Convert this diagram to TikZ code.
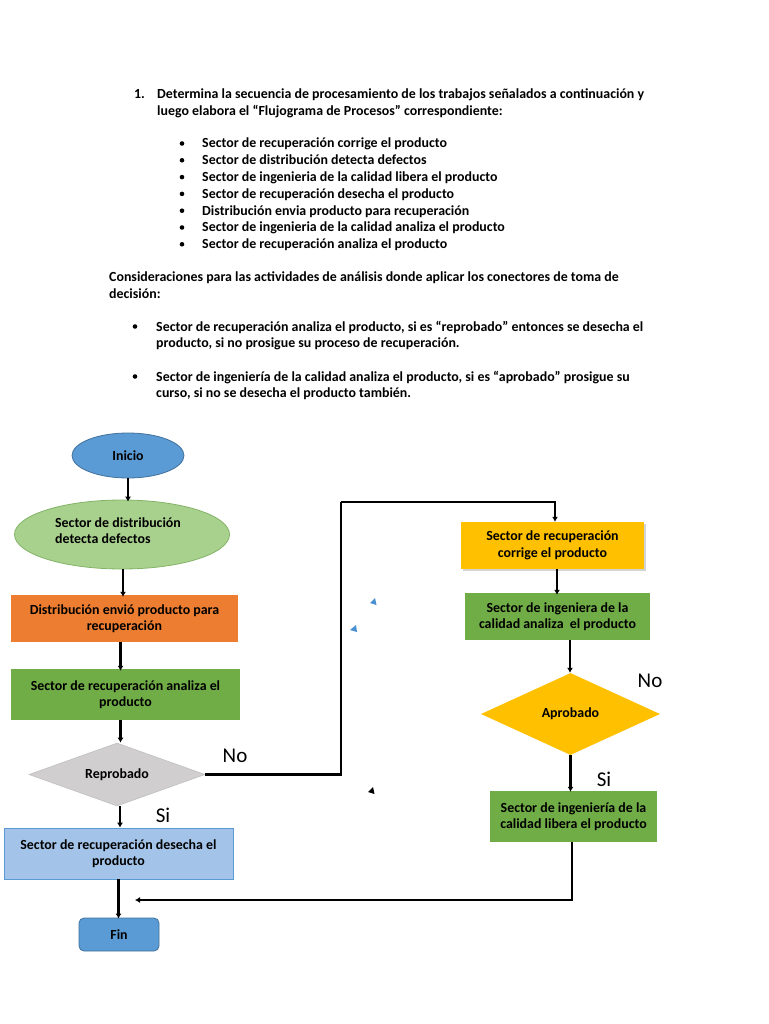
\documentclass[tikz,border=0pt]{standalone}
\usepackage{fontspec}
\setmainfont{Carlito}
\usetikzlibrary{shapes.geometric,arrows.meta,shadows,calc}
\definecolor{cblue}{HTML}{5B9BD5}
\definecolor{cbluedk}{HTML}{41719C}
\definecolor{clgreen}{HTML}{A9D18E}
\definecolor{clgreendk}{HTML}{82B366}
\definecolor{corange}{HTML}{ED7D31}
\definecolor{cgreen}{HTML}{70AD47}
\definecolor{cgrey}{HTML}{D0CECE}
\definecolor{cgreydk}{HTML}{BFBFBF}
\definecolor{clblue}{HTML}{A3C4E8}
\definecolor{cgold}{HTML}{FFC000}
\definecolor{ctri}{HTML}{4A8FD0}
\tikzset{
  txt/.style={anchor=base west,inner sep=0pt,font=\fontsize{13.9}{16.5}\selectfont\bfseries},
  bul/.style={anchor=center,inner sep=0pt,circle,fill=black,minimum size=4.6pt},
  lbl/.style={anchor=center,inner sep=0pt,font=\fontsize{21}{24}\selectfont},
  boxtxt/.style={align=center,font=\fontsize{13.9}{16.5}\selectfont\bfseries,inner sep=0pt},
  arr/.style={line width=2.8pt,-{Latex[length=5pt,width=6pt]}},
  conn/.style={line width=2.2pt},
}
\begin{document}
\begin{tikzpicture}[x=1pt,y=-1pt]
\useasboundingbox (0,0) rectangle (768,1024);
% ---------- text ----------
\node[txt] (n1) at (134,99) {1.};
\node[txt] (l1) at (157,99) {Determina la secuencia de procesamiento de los trabajos señalados a continuación y};
\node[txt] (l2) at (157,115.5) {luego elabora el “Flujograma de Procesos” correspondiente:};
\foreach \t [count=\i] in {Sector de recuperación corrige el producto,
  Sector de distribución detecta defectos,
  Sector de ingenieria de la calidad libera el producto,
  Sector de recuperación desecha el producto,
  Distribución envia producto para recuperación,
  Sector de ingenieria de la calidad analiza el producto,
  Sector de recuperación analiza el producto}{
  \node[bul] (b\i) at (182,{143.5+(\i-1)*16.8}) {};
  \node[txt] (s\i) at (202,{148+(\i-1)*16.8}) {\t};
}
\node[txt] (c1t) at (109,281.5) {Consideraciones para las actividades de análisis donde aplicar los conectores de toma de};
\node[txt] (c2t) at (109,298) {decisión:};
\node[bul] (bb1) at (135,326.5) {};
\node[txt] (d1) at (156,331) {Sector de recuperación analiza el producto, si es “reprobado” entonces se desecha el};
\node[txt] (d2) at (156,347.5) {producto, si no prosigue su proceso de recuperación.};
\node[bul] (bb2) at (135,376.5) {};
\node[txt] (d3) at (156,381) {Sector de ingeniería de la calidad analiza el producto, si es “aprobado” prosigue su};
\node[txt] (d4) at (156,397.5) {curso, si no se desecha el producto también.};
% ---------- flowchart ----------
\node[ellipse,boxtxt,fill=cblue,draw=cbluedk,line width=0.8pt,minimum width=112pt,minimum height=45pt] (ini) at (128,455.5) {Inicio};
\node[ellipse,fill=clgreen,draw=clgreendk,line width=0.8pt,minimum width=215pt,minimum height=69pt] (dist) at (122,534.5) {};
\node[boxtxt,align=left] (distt) at (118,530.5) {Sector de distribución\\detecta defectos};
\node[boxtxt,fill=corange,minimum width=227pt,minimum height=47pt] (env) at (124.5,618.5) {Distribución envió producto para\\recuperación};
\node[boxtxt,fill=cgreen,minimum width=229pt,minimum height=51pt] (ana) at (125.5,694.5) {Sector de recuperación analiza el\\producto};
\node[diamond,boxtxt,fill=cgrey,draw=cgreydk,line width=0.6pt,aspect=2.8,minimum width=176pt,minimum height=63pt] (rep) at (117,774.5) {Reprobado};
\node[boxtxt,fill=clblue,draw=cblue,line width=0.8pt,minimum width=229pt,minimum height=51pt] (des) at (118.5,853.5) {Sector de recuperación desecha el\\producto};
\node[boxtxt,rounded corners=5pt,fill=cblue,draw=cbluedk,line width=0.8pt,minimum width=80pt,minimum height=33pt] (fin) at (119,934.5) {Fin};
\node[boxtxt,fill=cgold,minimum width=183pt,minimum height=47pt,drop shadow={shadow xshift=2pt,shadow yshift=-2pt,opacity=0.35}] (cor) at (552.5,545.5) {Sector de recuperación\\corrige el producto};
\node[boxtxt,fill=cgreen,minimum width=185pt,minimum height=47pt] (ing) at (557.5,616.5) {Sector de ingeniera de la\\calidad analiza\ \ el producto};
\node[diamond,boxtxt,fill=cgold,aspect=2.2,minimum width=179pt,minimum height=82pt] (apr) at (570.5,714) {Aprobado};
\node[boxtxt,fill=cgreen,minimum width=167pt,minimum height=51pt] (lib) at (573.5,816.5) {Sector de ingeniería de la\\calidad libera el producto};
% labels
\node[lbl] (no1) at (235,756) {No};
\node[lbl] (si1) at (163,815) {Si};
\node[lbl] (no2) at (650,681) {No};
\node[lbl] (si2) at (604,779) {Si};
% connectors
\draw[arr] (ini.south) -- ([yshift=-2pt]ini.south |- dist.north);
\draw[arr] ([xshift=1pt]dist.south) -- ([xshift=1pt,yshift=-2pt]dist.south |- env.north);
\draw[arr] ([xshift=-4pt]env.south) -- ([xshift=-4pt,yshift=-2pt]env.south |- ana.north);
\draw[arr] ([xshift=-5pt]ana.south) -- ([xshift=-5pt]ana.south |- rep.north);
\draw[arr] ([xshift=3pt]rep.south) -- ([xshift=3pt]rep.south |- des.north);
\draw[arr] (des.south) -- ([yshift=-1pt]des.south |- fin.north);
\coordinate (k1) at (341,502);
\draw[conn] (rep.east) -| (k1);
\draw[arr,line width=2.2pt] (k1) -| ([xshift=2.5pt]cor.north);
\draw[arr] ([xshift=4.5pt]cor.south) -- ([xshift=4.5pt,yshift=-2pt]cor.south |- ing.north);
\draw[arr,line width=2.2pt] ([xshift=12.5pt]ing.south) -- ([xshift=12.5pt]ing.south |- apr.north);
\draw[arr] (apr.south) -- ([yshift=-1pt]apr.south |- lib.north);
\coordinate (k2) at (135,900);
\draw[arr,line width=2.2pt] ([xshift=-1.5pt]lib.south) |- (k2);
% stray marks
\fill[ctri] (370,603) -- (376.5,605) -- (375,598) -- cycle;
\fill[ctri] (350,630) -- (357,632) -- (356,625) -- cycle;
\fill[black] (368,792) -- (374.5,794) -- (373,787) -- cycle;
\end{tikzpicture}
\end{document}
